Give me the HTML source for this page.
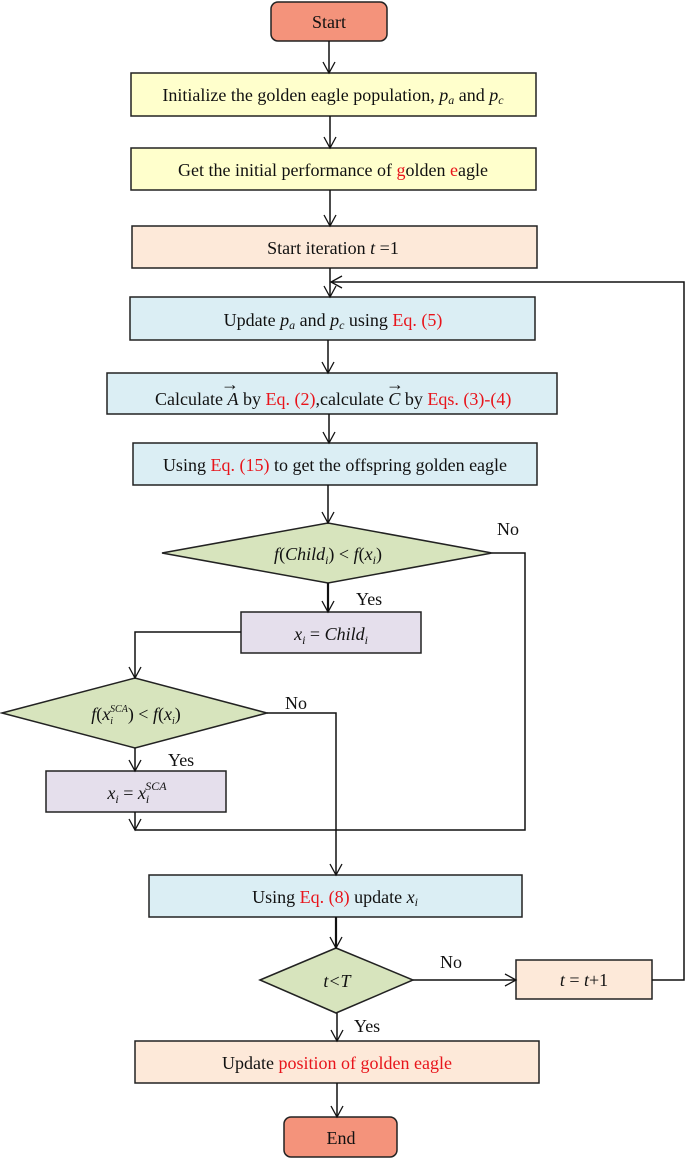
<!DOCTYPE html>
<html><head><meta charset="utf-8">
<style>
html,body{margin:0;padding:0;background:#fff;}
svg{display:block;}
text{font-family:"Liberation Serif",serif;font-size:18px;fill:#111;}
.r{fill:#e8141b;}
.i{font-style:italic;}
</style></head><body>
<svg width="685" height="1160" viewBox="0 0 685 1160" xmlns="http://www.w3.org/2000/svg">
<defs>
<marker id="a" markerWidth="14" markerHeight="14" refX="12" refY="7" orient="auto" markerUnits="userSpaceOnUse">
<path d="M1,1 L12,7 L1,13" fill="none" stroke="#111" stroke-width="1.3"/>
</marker>
</defs>
<g stroke="#222" stroke-width="1.5">
<rect x="271" y="2" width="116" height="39" rx="7" fill="#f4937b"/>
<rect x="131" y="73" width="405" height="43" fill="#ffffcc"/>
<rect x="131" y="148" width="405" height="42" fill="#ffffcc"/>
<rect x="132" y="226" width="405" height="42" fill="#fde9d9"/>
<rect x="130" y="297" width="405" height="43" fill="#dbeef4"/>
<rect x="107" y="373" width="450" height="41" fill="#dbeef4"/>
<rect x="133" y="443" width="404" height="42" fill="#dbeef4"/>
<polygon points="162,553 328,523 492,553 328,583" fill="#d7e4bd"/>
<rect x="241" y="612" width="180" height="41" fill="#e5dfec"/>
<polygon points="2,713 135,678 267,713 135,748" fill="#d7e4bd"/>
<rect x="46" y="771" width="180" height="41" fill="#e5dfec"/>
<rect x="149" y="875" width="373" height="42" fill="#dbeef4"/>
<polygon points="260,980 336,948 413,980 336,1013" fill="#d7e4bd"/>
<rect x="516" y="960" width="136" height="39" fill="#fde9d9"/>
<rect x="135" y="1041" width="404" height="42" fill="#fde9d9"/>
<rect x="284" y="1117" width="113" height="40" rx="7" fill="#f4937b"/>
</g>
<g stroke="#111" stroke-width="1.5" fill="none">
<line x1="329" y1="41" x2="329" y2="73" marker-end="url(#a)"/>
<line x1="330" y1="116" x2="330" y2="148" marker-end="url(#a)"/>
<line x1="330" y1="190" x2="330" y2="226" marker-end="url(#a)"/>
<line x1="330" y1="268" x2="330" y2="297" marker-end="url(#a)"/>
<polyline points="652,980 684,980 684,282 331,282" marker-end="url(#a)"/>
<line x1="328" y1="340" x2="328" y2="373" marker-end="url(#a)"/>
<line x1="329" y1="414" x2="329" y2="443" marker-end="url(#a)"/>
<line x1="328" y1="485" x2="328" y2="523" marker-end="url(#a)"/>
<line x1="328" y1="583" x2="328" y2="612" marker-end="url(#a)" stroke-width="2.2"/>
<polyline points="492,553 525,553 525,830 135,830"/>
<polyline points="241,632 135,632 135,678" marker-end="url(#a)"/>
<line x1="135" y1="748" x2="135" y2="771" marker-end="url(#a)"/>
<line x1="135" y1="812" x2="135" y2="830" marker-end="url(#a)"/>
<polyline points="267,713 336,713 336,875" marker-end="url(#a)"/>
<line x1="336" y1="917" x2="336" y2="948" marker-end="url(#a)" stroke-width="2.2"/>
<line x1="413" y1="980" x2="516" y2="980" marker-end="url(#a)"/>
<line x1="337" y1="1013" x2="337" y2="1041" marker-end="url(#a)"/>
<line x1="337" y1="1083" x2="337" y2="1117" marker-end="url(#a)"/>
</g>
<g text-anchor="middle">
<text x="329" y="28">Start</text>
<text x="333" y="101">Initialize the golden eagle population, <tspan class="i">p</tspan><tspan class="i" font-size="12" dy="3">a</tspan><tspan dy="-3"> and </tspan><tspan class="i">p</tspan><tspan class="i" font-size="12" dy="3">c</tspan></text>
<text x="333" y="176">Get the initial performance of <tspan class="r">g</tspan>olden <tspan class="r">e</tspan>agle</text>
<text x="333" y="254">Start iteration <tspan class="i">t</tspan> =1</text>
<text x="333" y="326">Update <tspan class="i">p</tspan><tspan class="i" font-size="12" dy="3">a</tspan><tspan dy="-3"> and </tspan><tspan class="i">p</tspan><tspan class="i" font-size="12" dy="3">c</tspan><tspan dy="-3"> using </tspan><tspan class="r">Eq. (5)</tspan></text>
<text x="335" y="471">Using <tspan class="r">Eq. (15)</tspan> to get the offspring golden eagle</text>
<text x="328" y="560" font-size="20"><tspan class="i">f</tspan>(<tspan class="i">Child</tspan><tspan class="i" font-size="12" dy="4">i</tspan><tspan dy="-4">) &lt; </tspan><tspan class="i">f</tspan>(<tspan class="i">x</tspan><tspan class="i" font-size="12" dy="4">i</tspan><tspan dy="-4">)</tspan></text>
<text x="331" y="640" font-size="20"><tspan class="i">x</tspan><tspan class="i" font-size="12" dy="4">i</tspan><tspan dy="-4"> = </tspan><tspan class="i">Child</tspan><tspan class="i" font-size="12" dy="4">i</tspan></text>
<text x="136" y="720" font-size="18"><tspan class="i">f</tspan>(<tspan class="i">x</tspan><tspan class="i" font-size="10" dy="4">i</tspan><tspan class="i" font-size="10" dx="-3" dy="-12">SCA</tspan><tspan dy="8">) &lt; </tspan><tspan class="i">f</tspan>(<tspan class="i">x</tspan><tspan class="i" font-size="10" dy="4">i</tspan><tspan dy="-4">)</tspan></text>
<text x="137" y="799" font-size="20"><tspan class="i">x</tspan><tspan class="i" font-size="12" dy="4">i</tspan><tspan dy="-4"> = </tspan><tspan class="i">x</tspan><tspan class="i" font-size="12" dy="4">i</tspan><tspan class="i" font-size="12" dx="-4" dy="-13">SCA</tspan></text>
<text x="335" y="903">Using <tspan class="r">Eq. (8)</tspan> update <tspan class="i">x</tspan><tspan class="i" font-size="12" dy="3">i</tspan></text>
<text x="337" y="987" class="i">t&lt;T</text>
<text x="584" y="986"><tspan class="i">t</tspan> = <tspan class="i">t</tspan>+1</text>
<text x="337" y="1069">Update <tspan class="r">position of golden eagle</tspan></text>
<text x="341" y="1144">End</text>
</g>
<text x="155" y="405">Calculate <tspan class="i">A</tspan> by <tspan class="r">Eq. (2)</tspan>,calculate <tspan class="i">C</tspan> by <tspan class="r">Eqs. (3)-(4)</tspan></text>
<text x="221" y="390" font-size="13">→</text>
<text x="386" y="390" font-size="13">→</text>
<text x="497" y="535" font-size="17">No</text>
<text x="356" y="605" font-size="17">Yes</text>
<text x="285" y="709" font-size="17">No</text>
<text x="168" y="766" font-size="17">Yes</text>
<text x="440" y="968" font-size="17">No</text>
<text x="354" y="1032" font-size="17">Yes</text>
</svg>
</body></html>
